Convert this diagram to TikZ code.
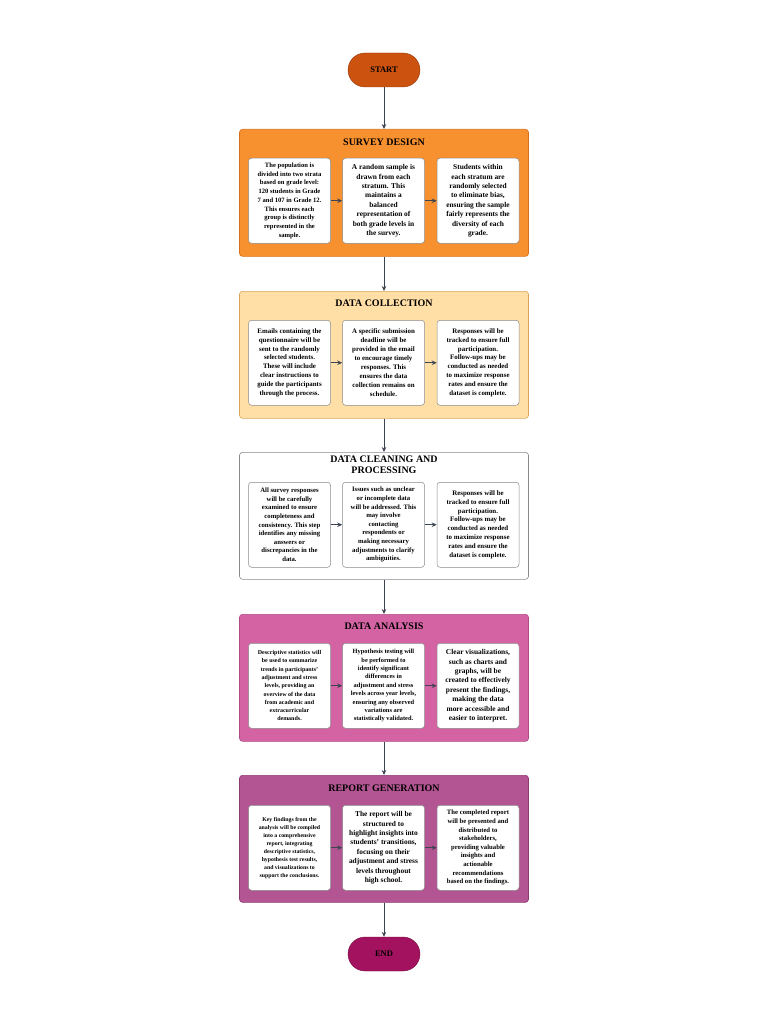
\documentclass[tikz,border=0pt]{standalone}
\usepackage{fontspec}
\setmainfont{Liberation Serif}
\usetikzlibrary{arrows.meta}
\definecolor{c1}{HTML}{F7902F}\definecolor{c1b}{HTML}{D86F1A}
\definecolor{c2}{HTML}{FFDFA6}\definecolor{c2b}{HTML}{D9A55A}
\definecolor{c3}{HTML}{FFFFFF}\definecolor{c3b}{HTML}{8A8A8A}
\definecolor{c4}{HTML}{D463A3}\definecolor{c4b}{HTML}{B04A86}
\definecolor{c5}{HTML}{B35592}\definecolor{c5b}{HTML}{8E3A72}
\definecolor{cs}{HTML}{CC5210}\definecolor{ce}{HTML}{A3125E}
\definecolor{ca}{HTML}{3C4452}
\tikzset{
 sect/.style={draw=#1b,fill=#1,rounded corners=3pt,minimum width=289pt,minimum height=127pt,anchor=north,line width=0.6pt},
 inbox/.style={draw=c3b,fill=white,rounded corners=3pt,minimum width=82pt,minimum height=85pt,anchor=north,align=center,font=\fontsize{6.9}{8.9}\selectfont\bfseries,inner sep=1pt,line width=0.5pt},
 big/.style={font=\fontsize{7.4}{9.4}\selectfont\bfseries},
 ttl/.style={font=\fontsize{10}{11}\selectfont\bfseries,align=center},
 pill/.style={draw=#1!70!black,fill=#1,rounded corners=17pt,minimum width=72pt,minimum height=34pt,font=\fontsize{8.5}{10}\selectfont\bfseries},
 arr/.style={-{Stealth[length=5pt,width=4.5pt]},draw=ca,line width=0.8pt}
}
\begin{document}
\begin{tikzpicture}[x=1pt,y=-1pt]
\useasboundingbox (0,0) rectangle (768,1024);
\node[pill=cs] (start) at (384,70) {START};
\node[pill=ce] (end) at (384,954) {END};
% sections
\node[sect=c1] (s1) at (384,129) {};
\node[sect=c2] (s2) at (384,291) {};
\node[sect=c3] (s3) at (384,452) {};
\node[sect=c4] (s4) at (384,614) {};
\node[sect=c5] (s5) at (384,775) {};
\node[ttl] (t1) at (384,142) {SURVEY DESIGN};
\node[ttl] (t2) at (384,303) {DATA COLLECTION};
\node[ttl] (t3) at (384,465) {DATA CLEANING AND\\PROCESSING};
\node[ttl] (t4) at (384,626) {DATA ANALYSIS};
\node[ttl] (t5) at (384,788) {REPORT GENERATION};
% row 1
\node[inbox,font=\fontsize{6.6}{8.7}\selectfont\bfseries] (a1) at (289.5,158) {The population is\\divided into two strata\\based on grade level:\\120 students in Grade\\7 and 107 in Grade 12.\\This ensures each\\group is distinctly\\represented in the\\sample.};
\node[inbox,big] (a2) at (383.5,158) {A random sample is\\drawn from each\\stratum. This\\maintains a\\balanced\\representation of\\both grade levels in\\the survey.};
\node[inbox,big] (a3) at (478,158) {Students within\\each stratum are\\randomly selected\\to eliminate bias,\\ensuring the sample\\fairly represents the\\diversity of each\\grade.};
% row 2
\node[inbox] (b1) at (289.5,320) {Emails containing the\\questionnaire will be\\sent to the randomly\\selected students.\\These will include\\clear instructions to\\guide the participants\\through the process.};
\node[inbox] (b2) at (383.5,320) {A specific submission\\deadline will be\\provided in the email\\to encourage timely\\responses. This\\ensures the data\\collection remains on\\schedule.};
\node[inbox] (b3) at (478,320) {Responses will be\\tracked to ensure full\\participation.\\Follow-ups may be\\conducted as needed\\to maximize response\\rates and ensure the\\dataset is complete.};
% row 3
\node[inbox,font=\fontsize{6.7}{8.6}\selectfont\bfseries] (c1n) at (289.5,482) {All survey responses\\will be carefully\\examined to ensure\\completeness and\\consistency. This step\\identifies any missing\\answers or\\discrepancies in the\\data.};
\node[inbox,font=\fontsize{6.7}{8.6}\selectfont\bfseries] (c2n) at (383.5,482) {Issues such as unclear\\or incomplete data\\will be addressed. This\\may involve\\contacting\\respondents or\\making necessary\\adjustments to clarify\\ambiguities.};
\node[inbox] (c3n) at (478,482) {Responses will be\\tracked to ensure full\\participation.\\Follow-ups may be\\conducted as needed\\to maximize response\\rates and ensure the\\dataset is complete.};
% row 4
\node[inbox,font=\fontsize{6.0}{8.3}\selectfont\bfseries] (d1) at (289.5,643) {Descriptive statistics will\\be used to summarize\\trends in participants'\\adjustment and stress\\levels, providing an\\overview of the data\\from academic and\\extracurricular\\demands.};
\node[inbox,font=\fontsize{6.4}{8.4}\selectfont\bfseries] (d2) at (383.5,643) {Hypothesis testing will\\be performed to\\identify significant\\differences in\\adjustment and stress\\levels across year levels,\\ensuring any observed\\variations are\\statistically validated.};
\node[inbox,big] (d3) at (478,643) {Clear visualizations,\\such as charts and\\graphs, will be\\created to effectively\\present the findings,\\making the data\\more accessible and\\easier to interpret.};
% row 5
\node[inbox,font=\fontsize{5.8}{8.0}\selectfont\bfseries] (e1) at (289.5,805) {Key findings from the\\analysis will be compiled\\into a comprehensive\\report, integrating\\descriptive statistics,\\hypothesis test results,\\and visualizations to\\support the conclusions.};
\node[inbox,big] (e2) at (383.5,805) {The report will be\\structured to\\highlight insights into\\students' transitions,\\focusing on their\\adjustment and stress\\levels throughout\\high school.};
\node[inbox,font=\fontsize{6.7}{8.6}\selectfont\bfseries] (e3) at (478,805) {The completed report\\will be presented and\\distributed to\\stakeholders,\\providing valuable\\insights and\\actionable\\recommendations\\based on the findings.};
% arrows
\foreach \p/\q in {a1/a2,a2/a3,b1/b2,b2/b3,c1n/c2n,c2n/c3n,d1/d2,d2/d3,e1/e2,e2/e3}
  \draw[arr] (\p.east) -- (\q.west);
\draw[arr] (start) -- (s1);
\draw[arr] (s1) -- (s2);
\draw[arr] (s2) -- (s3);
\draw[arr] (s3) -- (s4);
\draw[arr] (s4) -- (s5);
\draw[arr] (s5) -- (end);
\end{tikzpicture}
\end{document}
